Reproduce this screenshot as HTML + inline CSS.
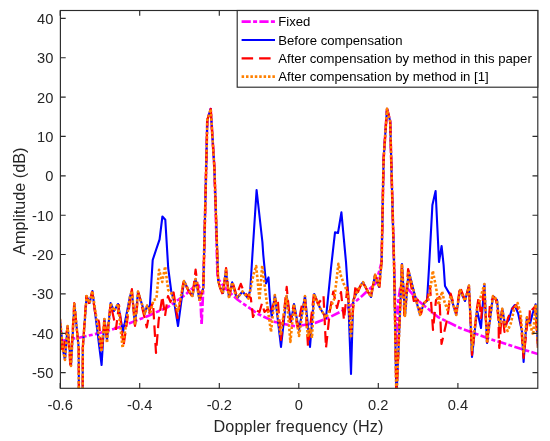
<!DOCTYPE html>
<html><head><meta charset="utf-8"><title>Doppler spectrum</title>
<style>
html,body{margin:0;padding:0;background:#fff;}
svg{display:block;font-family:"Liberation Sans",sans-serif;}
.tk{font-size:14.67px;fill:#262626;}
.lb{font-size:16.2px;fill:#262626;}
.lg{font-size:13.15px;fill:#000;}
</style></head><body>
<svg width="550" height="441" viewBox="0 0 550 441">
<rect width="550" height="441" fill="#fff"/>
<defs><clipPath id="c"><rect x="60.4" y="10.5" width="477.4" height="377.8"/></clipPath></defs>
<g clip-path="url(#c)" fill="none" stroke-linejoin="round">
<polyline points="60.0,341.0 80.0,337.5 100.0,333.0 120.0,327.0 148.0,316.0 168.0,307.0 185.0,295.0 198.0,283.0 200.0,290.0 201.6,325.0 203.3,288.0 207.3,120.0 210.7,109.0 214.4,168.0 217.5,278.0 225.0,288.0 238.0,300.0 258.0,314.0 275.0,322.0 296.0,326.4 315.0,323.0 328.0,318.0 348.0,308.0 362.0,296.0 376.0,283.0 381.6,262.0 383.6,159.0 387.0,108.8 390.2,121.2 391.2,159.0 394.0,262.0 396.4,345.0 398.4,300.0 400.5,286.0 408.0,289.0 418.0,300.5 438.0,317.0 460.0,328.0 490.0,339.0 528.0,351.0 538.0,354.0" stroke="#ff00ff" stroke-width="2.6" stroke-dasharray="9.2 2.3 4 2.3"/>
<polyline points="60.0,319.0 63.0,350.0 65.0,360.0 67.6,326.0 71.0,366.0 74.4,304.0 78.7,348.0 80.8,900.0 82.8,348.0 86.6,296.0 89.6,303.0 92.4,291.0 101.6,365.0 104.4,319.0 107.0,340.0 110.6,303.0 114.0,311.0 118.0,304.0 123.0,332.0 130.0,296.5 131.8,291.0 135.0,325.0 138.0,291.6 144.9,313.8 147.1,305.5 149.6,310.2 152.7,260.0 156.0,250.0 159.6,239.4 162.4,216.5 165.3,219.7 168.2,268.0 171.2,291.0 174.0,301.0 178.0,326.0 184.0,281.0 188.0,289.0 192.4,296.0 195.6,279.0 199.6,300.0 203.3,288.0 207.3,120.0 210.7,109.0 214.4,168.0 218.2,281.0 220.2,287.7 222.9,293.0 226.0,270.0 228.9,297.0 232.2,282.3 235.5,294.3 237.6,297.5 242.5,291.5 247.5,297.5 250.2,291.0 252.4,255.0 256.6,190.0 262.4,242.0 263.3,255.0 266.0,283.4 268.5,277.4 269.8,298.0 271.7,317.0 274.9,295.0 281.0,347.0 286.6,296.0 291.0,322.0 294.0,304.0 299.0,330.0 305.0,296.0 310.0,347.0 314.2,294.0 320.0,308.0 326.0,318.0 331.0,268.0 335.0,232.4 338.0,233.0 341.4,212.4 346.0,262.0 348.0,292.0 351.0,374.0 353.2,300.0 358.2,289.4 363.0,282.0 367.0,290.0 371.0,297.0 375.0,275.0 379.0,287.0 381.6,262.0 383.6,159.0 387.0,108.8 390.2,121.2 391.2,159.0 394.0,262.0 396.4,400.0 402.0,264.0 405.0,316.0 408.6,271.0 414.0,292.0 420.0,315.0 424.0,303.0 427.0,301.0 429.0,268.0 432.4,205.0 435.6,191.0 439.0,262.0 441.6,246.0 443.6,265.0 445.0,286.0 450.6,295.6 456.2,315.0 460.0,290.0 465.0,301.0 469.0,285.6 472.0,357.0 477.0,310.0 481.0,328.0 484.4,284.0 487.0,343.0 493.0,296.0 497.0,300.0 499.5,327.0 502.2,308.7 505.1,325.0 508.8,320.0 512.0,308.7 514.7,305.0 518.2,313.7 521.9,331.0 523.6,362.0 526.9,317.4 530.0,324.0 532.5,314.0 535.6,304.3 538.0,348.0" stroke="#0000ff" stroke-width="2.1"/>
<polyline points="60.0,321.0 62.5,354.0 67.6,327.0 70.5,368.0 74.2,303.0 78.7,348.0 80.8,900.0 82.8,348.0 86.3,296.0 89.2,304.0 92.1,292.0 95.0,312.0 99.0,322.0 101.6,352.0 104.4,320.0 107.0,338.0 110.6,304.0 113.5,317.0 116.0,329.0 119.0,305.0 123.5,346.0 128.0,315.0 131.9,289.1 135.0,326.0 138.5,293.0 143.7,314.0 146.8,327.4 150.0,309.0 153.0,302.5 156.0,353.0 158.7,320.0 162.4,296.2 165.0,316.0 168.0,296.0 170.5,302.0 173.6,292.5 177.5,318.0 183.6,281.2 188.0,290.0 192.4,297.0 195.6,269.7 199.6,300.0 203.3,288.0 207.3,120.0 210.7,109.0 214.4,168.0 218.2,281.0 220.5,289.0 223.0,295.0 226.1,268.0 229.0,298.0 232.5,282.0 236.5,295.0 240.8,283.8 244.0,292.0 247.7,295.7 250.8,298.0 253.0,317.0 256.0,310.0 259.5,312.0 262.0,303.2 264.5,312.0 268.0,309.0 270.0,314.0 273.0,305.0 277.6,298.2 281.0,340.0 286.7,286.9 290.0,322.0 293.5,306.0 297.5,327.0 302.3,303.0 305.0,300.0 308.0,346.0 314.0,293.0 318.0,304.0 321.0,300.0 323.5,295.6 326.0,348.0 330.0,310.0 333.3,291.5 337.0,308.0 341.0,292.0 344.0,320.0 347.5,286.0 351.0,330.0 355.6,285.0 358.0,292.0 362.2,281.7 366.0,288.0 370.7,297.0 375.1,274.5 379.4,288.0 381.6,262.0 383.6,159.0 387.0,108.8 390.2,121.2 391.2,159.0 394.0,262.0 396.4,400.0 401.9,264.0 404.4,317.0 408.1,269.0 413.8,301.0 418.0,300.0 421.0,314.0 424.0,303.0 427.0,300.0 430.0,286.0 433.0,330.0 436.0,300.0 439.4,297.0 441.5,344.0 447.0,320.0 450.6,293.7 453.7,303.7 456.2,313.0 460.0,286.9 465.0,300.0 466.8,294.0 469.0,286.0 472.0,355.0 477.0,308.0 478.7,296.8 481.2,318.0 483.7,290.0 487.4,342.0 490.0,303.0 493.6,297.0 496.1,300.0 498.6,320.0 498.8,340.0 499.3,348.0 502.0,310.0 504.5,332.0 508.0,318.0 512.0,309.0 516.0,305.0 520.0,313.0 523.6,358.0 528.0,317.0 529.4,321.0 530.0,306.8 532.5,309.3 535.0,306.8 538.0,346.0" stroke="#ff0000" stroke-width="2.2" stroke-dasharray="11.5 6"/>
<polyline points="60.0,319.0 63.0,350.0 65.0,360.0 67.6,326.0 71.0,366.0 74.4,304.0 78.7,348.0 80.8,900.0 82.8,348.0 86.6,296.0 89.6,303.0 92.4,291.0 101.4,352.0 104.4,319.0 107.0,343.0 110.6,303.0 114.0,311.0 118.0,304.0 122.6,348.0 130.0,296.5 131.8,291.0 135.0,325.0 138.0,291.6 144.9,313.8 147.1,305.5 149.6,310.2 150.6,312.0 153.5,300.0 156.4,299.0 159.1,269.7 162.2,282.0 165.1,266.5 168.2,290.0 171.2,293.0 174.0,301.0 178.0,311.0 184.0,281.0 188.0,289.0 192.4,296.0 195.6,279.0 199.6,300.0 203.3,288.0 207.3,120.0 210.7,109.0 214.4,168.0 218.2,281.0 220.2,287.7 222.9,293.0 226.0,270.0 228.9,297.0 232.2,282.3 235.5,294.3 237.6,297.5 242.5,291.5 247.5,297.5 248.5,298.6 253.5,274.6 256.2,266.0 259.5,300.0 262.2,265.4 266.5,300.0 271.0,332.0 274.9,295.0 280.5,335.0 286.6,296.0 290.4,342.0 294.0,304.0 299.0,336.0 305.0,296.0 307.8,337.0 310.0,329.0 312.0,338.0 314.2,294.0 320.0,308.0 326.0,318.0 334.4,298.6 336.5,280.0 338.4,263.7 340.9,275.7 343.6,283.4 346.9,291.0 348.5,298.6 351.0,338.0 353.2,300.0 358.2,289.4 363.0,282.0 367.0,290.0 371.0,297.0 375.0,275.0 379.0,287.0 381.6,262.0 383.6,159.0 387.0,108.8 390.2,121.2 391.2,159.0 394.0,262.0 396.4,400.0 402.0,264.0 405.0,316.0 408.6,271.0 414.0,292.0 420.0,315.0 424.0,303.0 427.0,301.0 428.5,299.7 431.2,283.4 432.8,270.8 436.1,287.7 438.6,305.0 442.1,291.5 444.5,302.0 447.5,310.0 450.6,295.6 456.2,315.0 460.0,290.0 465.0,301.0 469.0,285.6 472.0,350.0 477.0,310.0 484.4,284.0 487.0,343.0 493.0,296.0 497.0,300.0 499.5,327.0 502.2,308.7 505.1,325.0 507.6,331.0 510.7,323.7 514.0,310.0 517.6,303.0 520.7,313.7 523.6,352.0 526.9,317.4 529.4,322.4 533.2,335.0 535.6,304.3 538.0,348.0" stroke="#ff8000" stroke-width="2.6" stroke-dasharray="2.5 1.9"/>
</g>
<rect x="60.4" y="10.5" width="477.4" height="377.8" fill="none" stroke="#2b2b2b" stroke-width="1.15"/>
<path d="M60.4 18.3h5.3M537.8 18.3h-5.3" stroke="#2b2b2b" stroke-width="1.15"/>
<text class="tk" x="53.3" y="23.8" text-anchor="end">40</text>
<path d="M60.4 57.7h5.3M537.8 57.7h-5.3" stroke="#2b2b2b" stroke-width="1.15"/>
<text class="tk" x="53.3" y="63.2" text-anchor="end">30</text>
<path d="M60.4 97.1h5.3M537.8 97.1h-5.3" stroke="#2b2b2b" stroke-width="1.15"/>
<text class="tk" x="53.3" y="102.6" text-anchor="end">20</text>
<path d="M60.4 136.4h5.3M537.8 136.4h-5.3" stroke="#2b2b2b" stroke-width="1.15"/>
<text class="tk" x="53.3" y="141.9" text-anchor="end">10</text>
<path d="M60.4 175.8h5.3M537.8 175.8h-5.3" stroke="#2b2b2b" stroke-width="1.15"/>
<text class="tk" x="53.3" y="181.3" text-anchor="end">0</text>
<path d="M60.4 215.2h5.3M537.8 215.2h-5.3" stroke="#2b2b2b" stroke-width="1.15"/>
<text class="tk" x="53.3" y="220.7" text-anchor="end">-10</text>
<path d="M60.4 254.5h5.3M537.8 254.5h-5.3" stroke="#2b2b2b" stroke-width="1.15"/>
<text class="tk" x="53.3" y="260.0" text-anchor="end">-20</text>
<path d="M60.4 293.9h5.3M537.8 293.9h-5.3" stroke="#2b2b2b" stroke-width="1.15"/>
<text class="tk" x="53.3" y="299.4" text-anchor="end">-30</text>
<path d="M60.4 333.3h5.3M537.8 333.3h-5.3" stroke="#2b2b2b" stroke-width="1.15"/>
<text class="tk" x="53.3" y="338.8" text-anchor="end">-40</text>
<path d="M60.4 372.6h5.3M537.8 372.6h-5.3" stroke="#2b2b2b" stroke-width="1.15"/>
<text class="tk" x="53.3" y="378.1" text-anchor="end">-50</text>
<path d="M60.2 388.3v-5.3M60.2 10.5v5.3" stroke="#2b2b2b" stroke-width="1.15"/>
<text class="tk" x="60.2" y="409.7" text-anchor="middle">-0.6</text>
<path d="M139.7 388.3v-5.3M139.7 10.5v5.3" stroke="#2b2b2b" stroke-width="1.15"/>
<text class="tk" x="139.7" y="409.7" text-anchor="middle">-0.4</text>
<path d="M219.3 388.3v-5.3M219.3 10.5v5.3" stroke="#2b2b2b" stroke-width="1.15"/>
<text class="tk" x="219.3" y="409.7" text-anchor="middle">-0.2</text>
<path d="M298.8 388.3v-5.3M298.8 10.5v5.3" stroke="#2b2b2b" stroke-width="1.15"/>
<text class="tk" x="298.8" y="409.7" text-anchor="middle">0</text>
<path d="M378.3 388.3v-5.3M378.3 10.5v5.3" stroke="#2b2b2b" stroke-width="1.15"/>
<text class="tk" x="378.3" y="409.7" text-anchor="middle">0.2</text>
<path d="M457.9 388.3v-5.3M457.9 10.5v5.3" stroke="#2b2b2b" stroke-width="1.15"/>
<text class="tk" x="457.9" y="409.7" text-anchor="middle">0.4</text>
<text class="lb" x="298.5" y="432" text-anchor="middle" letter-spacing="0.12">Doppler frequency (Hz)</text>
<text class="lb" transform="translate(24.5,201.2) rotate(-90)" text-anchor="middle">Amplitude (dB)</text>
<rect x="237.2" y="10.5" width="300.6" height="76.7" fill="#fff" stroke="#2b2b2b" stroke-width="1.15"/>
<path d="M241.6 21.6H275" stroke="#ff00ff" stroke-width="2.6" stroke-dasharray="9.2 2.3 4 2.3" fill="none"/>
<path d="M241.6 40.0H275" stroke="#0000ff" stroke-width="2.1" fill="none"/>
<path d="M241.6 58.3H275" stroke="#ff0000" stroke-width="2.2" stroke-dasharray="11.5 6" fill="none"/>
<path d="M241.6 76.6H275" stroke="#ff8000" stroke-width="2.6" stroke-dasharray="2.5 1.9" fill="none"/>
<text class="lg" x="278.3" y="26.3">Fixed</text>
<text class="lg" x="278.3" y="44.7">Before compensation</text>
<text class="lg" x="278.3" y="63.0">After compensation by method in this paper</text>
<text class="lg" x="278.3" y="81.3">After compensation by method in [1]</text>
</svg></body></html>
